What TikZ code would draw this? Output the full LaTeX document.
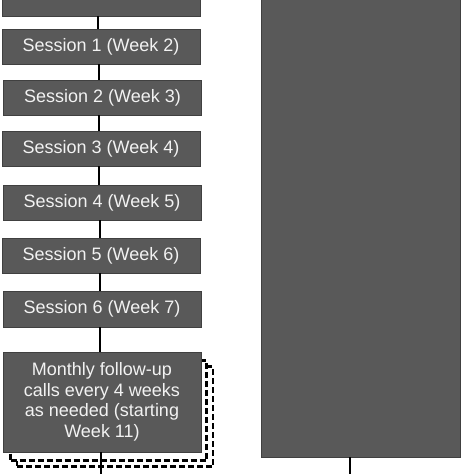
\documentclass[tikz,border=0pt]{standalone}
\usepackage{fontspec}
\setmainfont{Liberation Sans}
\begin{document}
\begin{tikzpicture}[x=1pt,y=-1pt,
  box/.style={draw=black!75, line width=0.8pt, fill=boxgray, text=textwhite,
    font=\fontsize{18}{20.5}\selectfont, inner sep=0pt, align=center,
    minimum width=198pt, minimum height=35pt},
  shadowbox/.style={draw=black, line width=2.4pt, dash pattern=on 6pt off 3pt, fill=white},
  link/.style={draw=black, line width=1.2pt}]
\definecolor{boxgray}{HTML}{595959}
\definecolor{textwhite}{HTML}{F2F2F2}
\useasboundingbox (0,0) rectangle (474,474);
\clip (0,0) rectangle (474,474);
\node[box, minimum height=36pt] (top) at (101,-2) {};
\node[box] (s1) at (101,46.5) {Session 1 (Week 2)};
\node[box] (s2) at (102.5,97.5) {Session 2 (Week 3)};
\node[box] (s3) at (101,148.5) {Session 3 (Week 4)};
\node[box] (s4) at (102,202.5) {Session 4 (Week 5)};
\node[box] (s5) at (101,255.5) {Session 5 (Week 6)};
\node[box, minimum height=36pt] (s6) at (102,309) {Session 6 (Week 7)};
\node[shadowbox, minimum width=196pt, minimum height=100pt] (sh2) at (115,416.5) {};
\node[shadowbox, minimum width=196pt, minimum height=100pt] (sh1) at (108.5,410.5) {};
\node[box, minimum height=100pt] (mon) at (102,402) {Monthly follow-up\\calls every 4 weeks\\as needed (starting\\Week 11)};
\node[box, minimum width=199pt, minimum height=477pt] (right) at (360.5,218.5) {};
\coordinate (e1) at (101,474);
\coordinate (r0) at (350,457);
\coordinate (e2) at (350,474);
\path[link] (top.south -| 98,0) -- (s1.north -| 98,0);
\path[link] (s1.south -| 99,0) -- (s2.north -| 99,0);
\path[link] (s2.south -| 99,0) -- (s3.north -| 99,0);
\path[link] (s3.south -| 99,0) -- (s4.north -| 99,0);
\path[link] (s4.south -| 100,0) -- (s5.north -| 100,0);
\path[link] (s5.south -| 100,0) -- (s6.north -| 100,0);
\path[link] (s6.south -| 100,0) -- (mon.north -| 100,0);
\path[link] (mon.south -| e1) -- (e1);
\path[link] (r0) -- (e2);
\end{tikzpicture}
\end{document}
